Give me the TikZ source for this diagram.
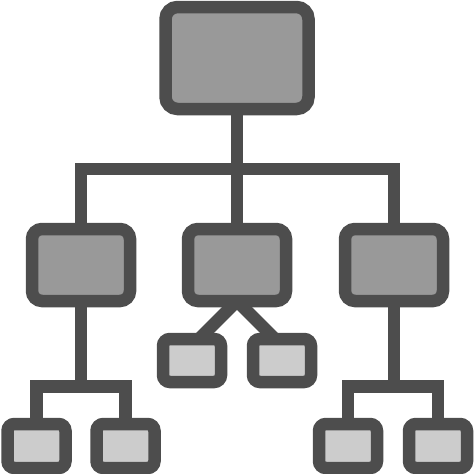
\documentclass[tikz,border=0pt]{standalone}
\usepackage{xcolor}
\usepackage{tikz}
\usetikzlibrary{backgrounds}

\definecolor{EdgeGray}{HTML}{4D4D4D}
\definecolor{BoxGray}{HTML}{999999}
\definecolor{LeafGray}{HTML}{CCCCCC}

\begin{document}
\begin{tikzpicture}[x=1pt, y=-1pt, line width=12.5pt,
  box/.style={draw=EdgeGray, fill=BoxGray, rectangle, inner sep=0pt, outer sep=0pt},
  leaf/.style={draw=EdgeGray, fill=LeafGray, rectangle, inner sep=0pt, outer sep=0pt,
    minimum width=58pt, minimum height=44pt, rounded corners=7pt},
  wire/.style={draw=EdgeGray, line width=12.5pt}]
\useasboundingbox (0,0) rectangle (474,474);

% top of the chart
\node[box, minimum width=143pt, minimum height=102pt, rounded corners=12pt] (top) at (237,58) {};

% middle row
\foreach \x/\n in {81/mL, 237/mM, 394/mR}
\node[box, minimum width=98pt, minimum height=72pt, rounded corners=10pt] (\n) at (\x,265) {};

% leaves
\node[leaf, minimum height=43pt] (sa) at (192,360.5) {};
\node[leaf, minimum height=43pt] (sb) at (282,360.5) {};
\foreach \x/\n in {36.5/b1, 125.5/b2, 348/b3, 438/b4}
\node[leaf] (\n) at (\x,446) {};

\coordinate (fork)  at (237,169);
\coordinate (forkL) at (81,386.5);
\coordinate (forkR) at (394,386.5);

\begin{scope}[on background layer]
\draw [wire] (top.south) -- (mM.north);
\draw [wire] (mL.north) |- (fork) -| (mR.north);

\draw [wire] ([xshift=7pt]sa.north) -- (mM.south) -- ([xshift=-7pt]sb.north);

\draw [wire] (mL.south) -- (forkL);
\draw [wire] (b1.north) |- (forkL) -| (b2.north);
\draw [wire] (mR.south) -- (forkR);
\draw [wire] (b3.north) |- (forkR) -| (b4.north);
\end{scope}
\end{tikzpicture}
\end{document}
